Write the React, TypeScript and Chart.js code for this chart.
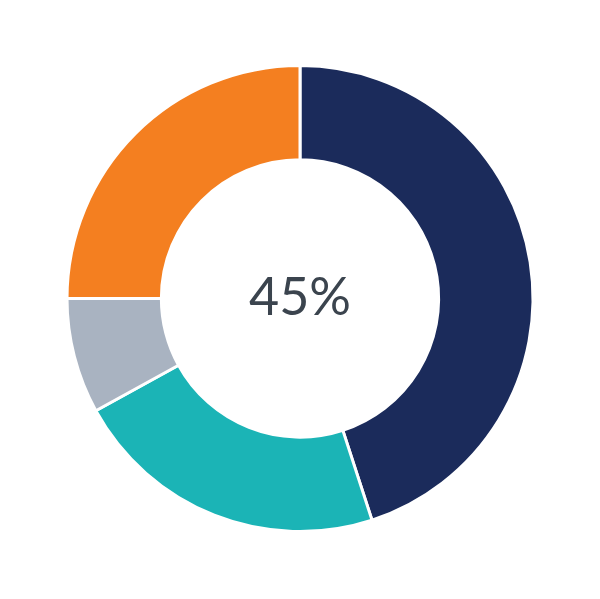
import React, { useEffect, useRef } from "react";
import { Chart, registerables } from "chart.js";

Chart.register(...registerables);

const categories = ["Navy", "Teal", "Gray", "Orange"];
const values = [45, 22, 8, 25];
const colors = ["#1b2b5b", "#1bb4b6", "#a9b3c1", "#f47f20"];
const centerLabel = "45%";

const centerText = {
  id: "centerText",
  afterDraw(chart: any) {
    const { ctx } = chart;
    const meta = chart.getDatasetMeta(0);
    const arc = meta.data[0];
    if (!arc) return;
    const { x, y } = arc;
    ctx.save();
    ctx.font = "52px Lato";
    ctx.fillStyle = "#3b444e";
    ctx.textAlign = "center";
    ctx.textBaseline = "middle";
    ctx.fillText(centerLabel, x, y);
    ctx.restore();
  },
};

export default function App() {
  const ref = useRef<HTMLCanvasElement>(null);
  useEffect(() => {
    document.body.style.margin = "0";
    const chart = new Chart(ref.current!, {
      type: "doughnut",
      data: {
        labels: categories,
        datasets: [
          {
            data: values,
            backgroundColor: colors,
            borderColor: "#ffffff",
            borderWidth: 3,
            radius: 233,
            cutout: "59.5%",
          },
        ],
      },
      options: {
        animation: false,
        responsive: false,
        plugins: { legend: { display: false }, tooltip: { enabled: false } },
      },
      plugins: [centerText],
    });
    return () => chart.destroy();
  }, []);
  return (
    <div style={{ width: 600, height: 599 }}>
      <canvas ref={ref} width={600} height={597} style={{ display: "block" }} />
    </div>
  );
}
